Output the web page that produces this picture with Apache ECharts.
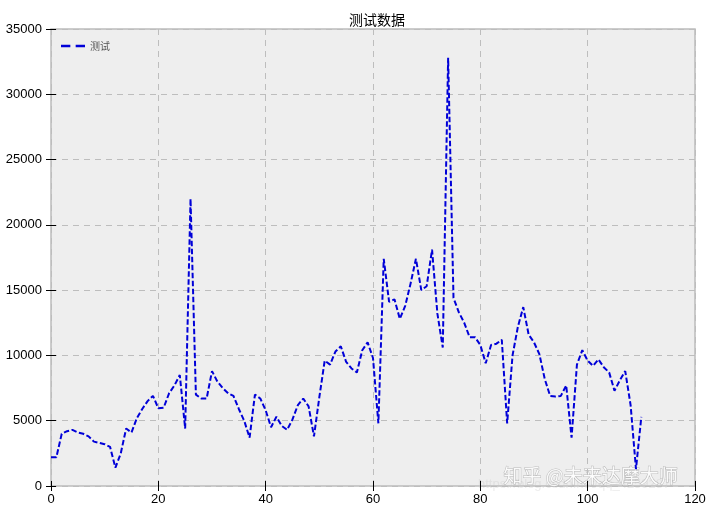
<!DOCTYPE html>
<html>
<head>
<meta charset="utf-8">
<script src="https://cdn.jsdelivr.net/npm/echarts@6/dist/echarts.min.js"></script>
<style>html,body{margin:0;padding:0;background:#fff}#c{width:721px;height:513px}</style>
</head>
<body>
<div id="c"></div>
<script>
const titleText = '测试数据';
const seriesName = '测试';
const xTicks = [0, 20, 40, 60, 80, 100, 120];
const yTicks = [0, 5000, 10000, 15000, 20000, 25000, 30000, 35000];
const values = [
  2200, 2200, 4000, 4200, 4300, 4100, 4000, 3800, 3400, 3300,
  3200, 3000, 1400, 2500, 4400, 4100, 5200, 5900, 6500, 6900,
  5950, 6000, 7100, 7700, 8500, 4400, 22000, 7000, 6700, 6700,
  8800, 8000, 7500, 7100, 6900, 5900, 5000, 3700, 7000, 6700,
  5800, 4500, 5300, 4600, 4300, 5100, 6200, 6700, 6100, 3800,
  6800, 9600, 9300, 10300, 10700, 9500, 9000, 8700, 10400, 11000,
  9800, 4800, 17400, 14100, 14300, 12800, 13800, 15500, 17400, 15000,
  15300, 18100, 13200, 10600, 32800, 14400, 13300, 12500, 11400, 11400,
  10800, 9400, 10800, 10900, 11200, 4800, 10000, 12200, 13700, 11600,
  11000, 10100, 8200, 6900, 6850, 6900, 7700, 3700, 9300, 10400,
  9600, 9200, 9700, 9100, 8700, 7300, 8100, 8800, 6200, 1300,
  5300
];
const xIndex = values.map((v, i) => i);

const chart = echarts.init(document.getElementById('c'), null, {renderer: 'canvas'});
const font = 'Liberation Sans, Arial, Noto Sans CJK SC, sans-serif';
const tickStyle = {show: true, inside: true, length: 5, lineStyle: {color: '#000', width: 1}};
const xMin = xTicks[0], xMax = xTicks[xTicks.length - 1], xInt = xTicks[1] - xTicks[0];
const yMin = yTicks[0], yMax = yTicks[yTicks.length - 1], yInt = yTicks[1] - yTicks[0];
chart.setOption({
  backgroundColor: '#ffffff',
  animation: false,
  title: {
    text: titleText, left: 372, top: 8, textAlign: 'center',
    textStyle: {fontFamily: 'Noto Sans CJK SC, sans-serif', fontSize: 14, fontWeight: 'normal', color: '#000'}
  },
  legend: {
    show: true, left: 56, top: 36, itemWidth: 24, itemHeight: 10, itemGap: 6,
    textStyle: {fontFamily: 'Noto Sans CJK SC, sans-serif', fontSize: 10, color: '#555'},
    data: [{name: seriesName, icon: 'path://M0,4 L7,4 L7,6 L0,6 Z M11,4 L18,4 L18,6 L11,6 Z', itemStyle: {color: '#0000d8'}}]
  },
  grid: {
    left: 51, right: 26, top: 29, bottom: 27, show: true,
    backgroundColor: '#eeeeee', borderColor: '#bcbcbc', borderWidth: 1.5
  },
  xAxis: [{
    type: 'value', min: xMin, max: xMax, interval: xInt,
    axisLine: {show: false}, axisTick: tickStyle,
    axisLabel: {color: '#000', fontSize: 13, fontFamily: font, margin: 7, formatter: v => String(v)},
    splitLine: {show: true, lineStyle: {color: '#bdbdbd', type: [6, 5], width: 1}}
  }, {
    type: 'value', position: 'top', min: xMin, max: xMax, interval: xInt,
    axisLine: {show: false}, axisTick: tickStyle, axisLabel: {show: false}, splitLine: {show: false}
  }],
  yAxis: [{
    type: 'value', min: yMin, max: yMax, interval: yInt,
    axisLine: {show: false}, axisTick: tickStyle,
    axisLabel: {color: '#000', fontSize: 13, fontFamily: font, margin: 9, formatter: v => String(v)},
    splitLine: {show: true, lineStyle: {color: '#bdbdbd', type: [6, 5], width: 1}}
  }, {
    type: 'value', position: 'right', min: yMin, max: yMax, interval: yInt,
    axisLine: {show: false}, axisTick: tickStyle, axisLabel: {show: false}, splitLine: {show: false}
  }],
  series: [{
    name: seriesName, type: 'line', showSymbol: false, symbol: 'none',
    data: xIndex.map((x, i) => [x, values[i]]),
    lineStyle: {color: '#0000d8', width: 2, type: [5.5, 2.5]},
    itemStyle: {color: '#0000d8'}
  }],
  graphic: [{
    type: 'text', left: 478, top: 478, silent: true,
    style: {text: 'https://blog.csdn.net/qq_4259287', fontSize: 13, fontFamily: font, fill: 'rgba(200,200,200,0.35)'}
  }, {
    type: 'text', left: 503, top: 466, silent: true,
    style: {text: '知乎 @未来达摩大师', fontSize: 19, fontFamily: 'Noto Sans CJK SC, sans-serif',
      fill: 'rgba(255,255,255,0.9)', stroke: 'rgba(150,150,150,0.6)', lineWidth: 1}
  }]
});
</script>
</body>
</html>
